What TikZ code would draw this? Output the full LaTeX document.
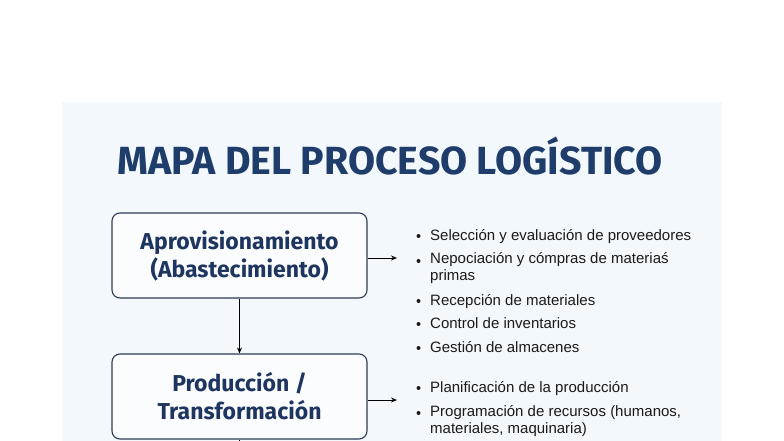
\documentclass[tikz,border=0pt]{standalone}
\usepackage{fontspec}
\setmainfont{Liberation Sans}
\newfontfamily\titlefont{Fira Sans}
\newfontfamily\boxfont{Fira Sans}
\usetikzlibrary{arrows.meta}
\definecolor{panel}{HTML}{F3F8FD}
\definecolor{navy}{HTML}{1F3D6B}
\definecolor{boxnavy}{HTML}{1E3560}
\definecolor{edge}{HTML}{2E3D55}
\definecolor{itemtext}{HTML}{1A1A1A}
\tikzset{
  stagebox/.style={draw=edge, line width=1.1pt, rounded corners=8pt, fill=white!60!panel,
    minimum width=255pt, minimum height=85pt, align=center, text=boxnavy,
    font=\boxfont\bfseries\fontsize{23}{28}\selectfont},
  item/.style={anchor=base west, text=itemtext, inner sep=0pt, align=left,
    font=\fontsize{15}{17}\selectfont},
  dot/.style={circle, fill=itemtext, inner sep=0pt, minimum size=4pt},
  link/.style={draw=black, line width=0.8pt, -{Stealth[length=6pt,width=5pt]}},
}
\begin{document}
\begin{tikzpicture}[x=1pt,y=-1pt]
\useasboundingbox (0,0) rectangle (784,441);
\fill[white] (0,0) rectangle (784,441);
\fill[panel] (62,102) rectangle (722,445);
\node[text=navy, inner sep=0pt] (title) at (390,156)
  {\resizebox{545pt}{!}{\titlefont\bfseries MAPA DEL PROCESO LOGÍSTICO}};

\node[stagebox] (aprov) at (239.5,255.5) {Aprovisionamiento\\(Abastecimiento)};
\node[stagebox] (prod) at (239.5,396.5) {Producción /\\Transformación};

\coordinate (a1) at (397,258);
\coordinate (a2) at (397,400);
\coordinate (down) at (239.5,445);
\draw[link] (aprov.south) -- (prod.north);
\draw[link] (aprov.east |- a1) -- (a1);
\draw[link] (prod.east |- a2) -- (a2);
\draw[draw=black, line width=0.8pt] (prod.south) -- (down);

% \y = bullet line, \b = baseline of the item's last line
\foreach \n/\y/\b/\t in {
  i1/235/240/{Selección y evaluación de proveedores},
  i2/260/280/{Nepociación y cómpras de materiaś\\primas},
  i3/300/305/{Recepción de materiales},
  i4/323/328/{Control de inventarios},
  i5/347/352/{Gestión de almacenes},
  i6/387/392/{Planificación de la producción},
  i7/412/433/{Programación de recursos (humanos,\\materiales, maquinaria)}}{
  \node[item] (\n) at (430,\b) {\t};
  \node[dot] (d\n) at (418.5,\y+1) {};
}
\end{tikzpicture}
\end{document}
